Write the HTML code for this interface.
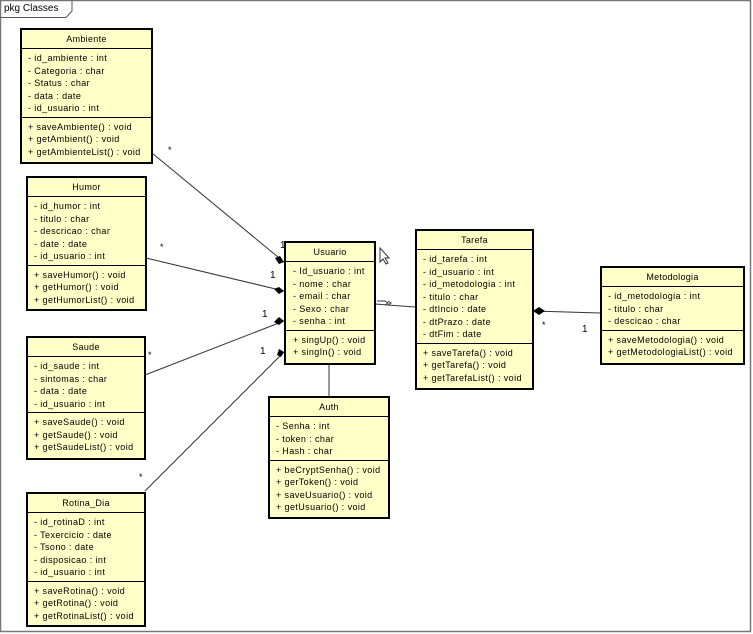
<!DOCTYPE html>
<html><head><meta charset="utf-8"><style>
body{margin:0;width:753px;height:634px;background:#fff;position:relative;overflow:hidden;font-family:"Liberation Sans",sans-serif;font-size:9px;color:#000}
.c{position:absolute;background:#ffffc8;border:2px solid #000;box-sizing:border-box}
.h{text-align:center;height:18px;line-height:19px;border-bottom:1px solid #000;letter-spacing:.3px}
.s{padding:3px 0 2px 6px;border-bottom:1px solid #000;white-space:nowrap;overflow:hidden}
.s:last-child{border-bottom:none}
.s div{height:12.5px;line-height:12.5px;letter-spacing:.4px}
svg{position:absolute;left:0;top:0}
.t{position:absolute;font-size:10px}
</style></head><body>
<svg width="753" height="634">
<rect x="0.5" y="0.5" width="750" height="631" fill="none" stroke="#777" stroke-width="1.5"/>
<path d="M0.5 17.5H66L72 11V0.5" fill="none" stroke="#555"/>
<g stroke="#333" fill="none">
<line x1="152" y1="153" x2="284" y2="262"/>
<line x1="146" y1="258" x2="284" y2="291"/>
<line x1="145" y1="375" x2="284" y2="321"/>
<line x1="145" y1="491" x2="284" y2="352"/>
<line x1="375" y1="304" x2="415" y2="307"/>
<line x1="533" y1="311" x2="600" y2="313"/>
<line x1="329" y1="364" x2="329" y2="396"/>
<path d="M377 301h8M385 301l3 2-3 2M388 301l3 2-3 2"/>
</g>
<g fill="#000">
<polygon points="284,262 279,264 275,258 280,256" transform="rotate(0)"/>
<polygon points="284,291 279,294 274,289 279,287"/>
<polygon points="284,321 279,325 274,322 279,317"/>
<polygon points="284,352 281,357 277,355 279,349"/>
<polygon points="533,311 539,307 545,311 539,315"/>
</g>
<circle cx="366" cy="261.5" r="3" fill="#f5a623"/>
<rect x="363" y="329" width="6" height="3" fill="#2a9d4a"/>
<path d="M380 248v14l3-3 3 5 2-1-3-5h4z" fill="#fff" stroke="#333"/>
</svg>
<div class="t" style="left:4px;top:3px">pkg Classes</div>
<div class="t" style="left:168px;top:145px;font-size:9px">*</div>
<div class="t" style="left:160px;top:242px;font-size:9px">*</div>
<div class="t" style="left:148px;top:350px;font-size:9px">*</div>
<div class="t" style="left:139px;top:472px;font-size:9px">*</div>
<div class="t" style="left:280px;top:240px">1</div>
<div class="t" style="left:270px;top:270px">1</div>
<div class="t" style="left:262px;top:309px">1</div>
<div class="t" style="left:260px;top:346px">1</div>
<div class="t" style="left:542px;top:320px;font-size:9px">*</div>
<div class="t" style="left:582px;top:324px">1</div>

<div class="c" style="left:20px;top:28px;width:133px;height:136px"><div class="h">Ambiente</div><div class="s"><div>- id_ambiente : int</div><div>- Categoria : char</div><div>- Status : char</div><div>- data : date</div><div>- id_usuario : int</div></div><div class="s"><div>+ saveAmbiente() : void</div><div>+ getAmbient() : void</div><div>+ getAmbienteList() : void</div></div></div>

<div class="c" style="left:26px;top:176px;width:121px;height:135px"><div class="h">Humor</div><div class="s"><div>- id_humor : int</div><div>- titulo : char</div><div>- descricao : char</div><div>- date : date</div><div>- id_usuario : int</div></div><div class="s"><div>+ saveHumor() : void</div><div>+ getHumor() : void</div><div>+ getHumorList() : void</div></div></div>

<div class="c" style="left:26px;top:336px;width:120px;height:124px"><div class="h">Saude</div><div class="s"><div>- id_saude : int</div><div>- sintomas : char</div><div>- data : date</div><div>- id_usuario : int</div></div><div class="s"><div>+ saveSaude() : void</div><div>+ getSaude() : void</div><div>+ getSaudeList() : void</div></div></div>

<div class="c" style="left:26px;top:492px;width:120px;height:135px"><div class="h">Rotina_Dia</div><div class="s"><div>- id_rotinaD : int</div><div>- Texercicio : date</div><div>- Tsono : date</div><div>- disposicao : int</div><div>- id_usuario : int</div></div><div class="s"><div>+ saveRotina() : void</div><div>+ getRotina() : void</div><div>+ getRotinaList() : void</div></div></div>

<div class="c" style="left:284px;top:241px;width:92px;height:124px"><div class="h">Usuario</div><div class="s" style="padding-left:7px"><div>- Id_usuario : int</div><div>- nome : char</div><div>- email : char</div><div>- Sexo : char</div><div>- senha : int</div></div><div class="s" style="padding-left:7px"><div>+ singUp() : void</div><div>+ singIn() : void</div></div></div>

<div class="c" style="left:415px;top:229px;width:119px;height:161px"><div class="h">Tarefa</div><div class="s"><div>- id_tarefa : int</div><div>- id_usuario : int</div><div>- id_metodologia : int</div><div>- titulo : char</div><div>- dtIncio : date</div><div>- dtPrazo : date</div><div>- dtFim : date</div></div><div class="s"><div>+ saveTarefa() : void</div><div>+ getTarefa() : void</div><div>+ getTarefaList() : void</div></div></div>

<div class="c" style="left:600px;top:266px;width:145px;height:99px"><div class="h">Metodologia</div><div class="s"><div>- id_metodologia : int</div><div>- titulo : char</div><div>- descicao : char</div></div><div class="s"><div>+ saveMetodologia() : void</div><div>+ getMetodologiaList() : void</div></div></div>

<div class="c" style="left:268px;top:396px;width:122px;height:123px"><div class="h">Auth</div><div class="s"><div>- Senha : int</div><div>- token : char</div><div>- Hash : char</div></div><div class="s"><div>+ beCryptSenha() : void</div><div>+ gerToken() : void</div><div>+ saveUsuario() : void</div><div>+ getUsuario() : void</div></div></div>
</body></html>
